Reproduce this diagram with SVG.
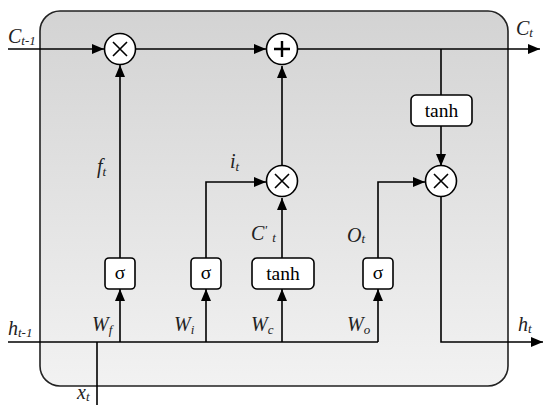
<svg xmlns="http://www.w3.org/2000/svg" width="550" height="410" viewBox="0 0 550 410">
<defs>
<linearGradient id="bg" x1="0" y1="0" x2="0" y2="1">
<stop offset="0" stop-color="#d3d3d3"/>
<stop offset="1" stop-color="#f2f2f2"/>
</linearGradient>
<marker id="ar" markerUnits="userSpaceOnUse" markerWidth="12" markerHeight="10" refX="12" refY="5" orient="auto">
<path d="M0,0 L12,5 L0,10 z" fill="#000"/>
</marker>
<style>
.ln{fill:none;stroke:#000;stroke-width:1.6}
.nd{fill:#fff;stroke:#000;stroke-width:1.6}
.op{fill:none;stroke:#000;stroke-width:1.6}
.lb{font-family:'Liberation Serif','Times New Roman','DejaVu Serif',serif;font-style:italic;font-size:20px;fill:#222}
.sb{font-size:13px}
.bt{font-family:'Liberation Serif','Times New Roman','DejaVu Serif',serif;font-size:19.5px;fill:#000;text-anchor:middle}
</style>
</defs>
<rect x="40" y="11" width="468" height="375" rx="20" fill="url(#bg)" stroke="#222" stroke-width="1.6"/>
<g id="connectors">
<path class="ln" d="M8 49 H104" marker-end="url(#ar)"/>
<path class="ln" d="M136 49 H266" marker-end="url(#ar)"/>
<path class="ln" d="M298 49 H540" marker-end="url(#ar)"/>
<path class="ln" d="M441 49 V95"/>
<path class="ln" d="M441 126 V166" marker-end="url(#ar)"/>
<path class="ln" d="M441 197 V342 H543" marker-end="url(#ar)"/>
<path class="ln" d="M8 342 H378"/>
<path class="ln" d="M97 342 V405"/>
<path class="ln" d="M120 342 V289" marker-end="url(#ar)"/>
<path class="ln" d="M206 342 V289" marker-end="url(#ar)"/>
<path class="ln" d="M282 342 V289" marker-end="url(#ar)"/>
<path class="ln" d="M378 342 V289" marker-end="url(#ar)"/>
<path class="ln" d="M120 258 V65" marker-end="url(#ar)"/>
<path class="ln" d="M206 258 V182 H266" marker-end="url(#ar)"/>
<path class="ln" d="M282 258 V198" marker-end="url(#ar)"/>
<path class="ln" d="M282 165 V66" marker-end="url(#ar)"/>
<path class="ln" d="M378 258 V182 H425" marker-end="url(#ar)"/>
</g>
<g id="mul1"><circle class="nd" cx="120" cy="49" r="15.5"/><path class="op" d="M113 42 L127 56 M127 42 L113 56"/></g>
<g id="add"><circle class="nd" cx="282" cy="49" r="15.5"/><path class="op" d="M282 41 V57 M274 49 H290" style="stroke-width:2.4"/></g>
<g id="mul2"><circle class="nd" cx="282" cy="181" r="15.5"/><path class="op" d="M275 174 L289 188 M289 174 L275 188"/></g>
<g id="mul3"><circle class="nd" cx="441" cy="181" r="15.5"/><path class="op" d="M434 174 L448 188 M448 174 L434 188"/></g>
<g id="tanh-out"><rect class="nd" x="411" y="95" width="61" height="31" rx="5"/><text class="bt" x="441.5" y="117">tanh</text></g>
<g id="sig-f"><rect class="nd" x="105" y="258" width="30" height="31" rx="4"/><text class="bt" x="120" y="279">σ</text></g>
<g id="sig-i"><rect class="nd" x="191" y="258" width="30" height="31" rx="4"/><text class="bt" x="206" y="279">σ</text></g>
<g id="tanh-c"><rect class="nd" x="252" y="258" width="62" height="31" rx="5"/><text class="bt" x="283" y="280">tanh</text></g>
<g id="sig-o"><rect class="nd" x="363" y="258" width="30" height="31" rx="4"/><text class="bt" x="378" y="279">σ</text></g>
<g id="labels">
<text class="lb" x="8" y="43">C<tspan class="sb" dy="2">t-1</tspan></text>
<text class="lb" x="516" y="35">C<tspan class="sb" dy="2">t</tspan></text>
<text class="lb" x="97" y="173">f<tspan class="sb" dy="3">t</tspan></text>
<text class="lb" x="230" y="168">i<tspan class="sb" dy="3">t</tspan></text>
<text class="lb" x="251" y="240">C<tspan dy="-6" font-size="13">'</tspan><tspan class="sb" dx="5" dy="8">t</tspan></text>
<text class="lb" x="347" y="242">O<tspan class="sb" dy="1">t</tspan></text>
<text class="lb" x="92" y="331">W<tspan class="sb" dy="3">f</tspan></text>
<text class="lb" x="174" y="331">W<tspan class="sb" dy="3">i</tspan></text>
<text class="lb" x="251" y="331">W<tspan class="sb" dy="3">c</tspan></text>
<text class="lb" x="347" y="331">W<tspan class="sb" dy="3">o</tspan></text>
<text class="lb" x="8" y="335">h<tspan class="sb" dy="2">t-1</tspan></text>
<text class="lb" x="518" y="331">h<tspan class="sb" dy="2">t</tspan></text>
<text class="lb" x="77" y="399">x<tspan class="sb" dy="2">t</tspan></text>
</g>
</svg>
